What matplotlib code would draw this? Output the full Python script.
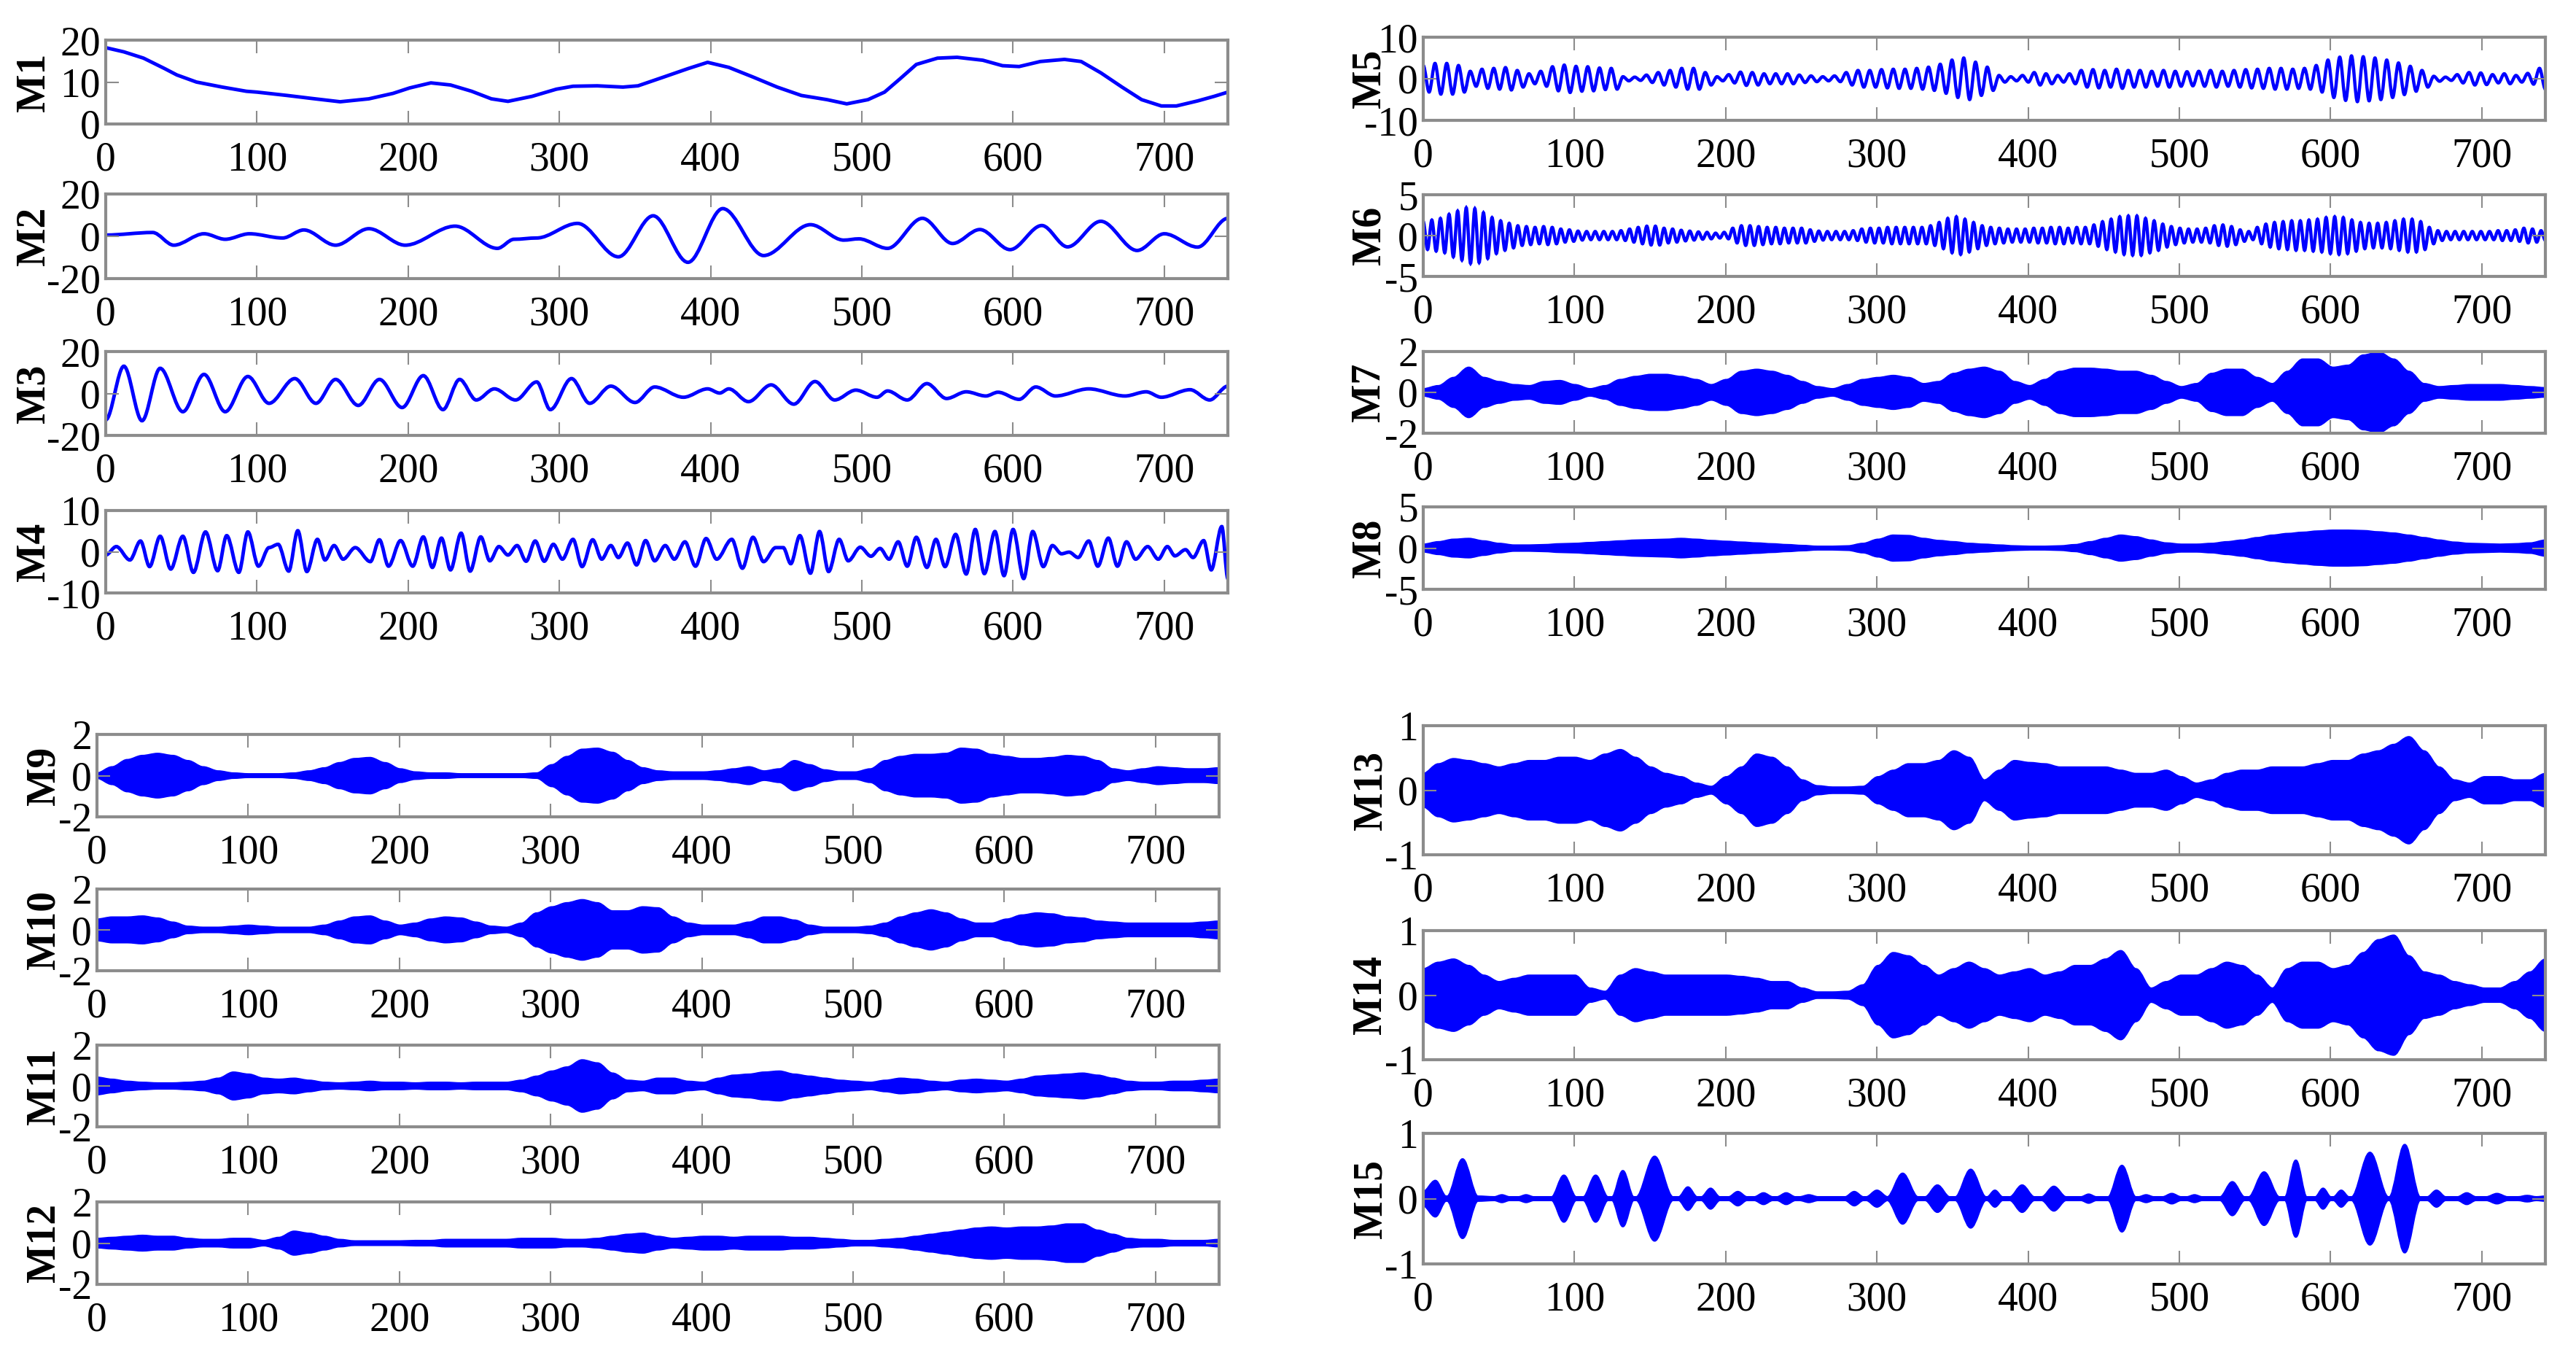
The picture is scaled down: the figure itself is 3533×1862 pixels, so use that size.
import numpy as np
import matplotlib
matplotlib.use("Agg")
import matplotlib.pyplot as plt
from matplotlib.path import Path
from matplotlib.patches import PathPatch

plt.rcParams['font.family'] = ['Liberation Serif', 'DejaVu Serif']
plt.rcParams['axes.unicode_minus'] = False

n_samples = 742
x_ticks = [0, 100, 200, 300, 400, 500, 600, 700]

# M1: smooth trend
m1_x = [0, 12, 25, 39, 47, 60, 77, 93, 100, 120, 136, 155, 174, 190, 201, 215, 228, 242, 255, 266,
        282, 298, 309, 325, 342, 352, 369, 385, 398, 412, 428, 444, 460, 477, 490, 504, 515, 525, 536, 550,
        563, 580, 593, 604, 618, 634, 645, 658, 672, 685, 698, 708, 722, 733, 742]
m1_y = [18.2, 17.2, 15.7, 13.2, 11.7, 10.0, 8.8, 7.8, 7.6, 6.8, 6.1, 5.3, 6.0, 7.3, 8.6, 9.8, 9.3, 7.8, 6.0, 5.4,
        6.6, 8.3, 9.0, 9.1, 8.8, 9.1, 11.2, 13.2, 14.7, 13.5, 11.2, 8.8, 6.8, 5.8, 4.8, 5.8, 7.6, 10.7, 14.2, 15.7,
        15.9, 15.2, 13.9, 13.7, 14.9, 15.4, 14.9, 12.2, 8.8, 5.8, 4.3, 4.3, 5.5, 6.6, 7.6]

# M2-M4: turning points (peaks / troughs)
m2_x = [0, 31, 45, 65, 79, 95, 117, 131, 152, 174, 198, 231, 259, 270, 285, 312, 339, 362, 385, 408,
        435, 466, 488, 498, 517, 540, 560, 578, 598, 619, 636, 658, 682, 700, 722, 742]
m2_y = [0.6, 1.8, -4.2, 1.2, -1.4, 1.2, -0.8, 3.0, -4.2, 3.6, -4.2, 4.8, -5.7, -1.4, -0.8, 6.1, -9.7, 9.7, -12.3, 13.1,
        -9.1, 5.5, -1.8, -1.2, -5.7, 8.5, -3.4, 3.2, -6.3, 5.1, -5.0, 7.1, -6.7, 1.2, -5.1, 8.5]

m3_x = [0, 12, 24, 36, 51, 65, 79, 94, 108, 125, 139, 152, 167, 181, 196, 210, 223, 234, 245, 257,
        271, 285, 294, 308, 320, 334, 350, 363, 382, 398, 406, 412, 425, 440, 455, 469, 482, 496, 510, 517,
        530, 543, 556, 569, 582, 590, 604, 615, 628, 650, 674, 688, 698, 717, 730, 742]
m3_y = [-12.6, 13.0, -13.0, 12.0, -8.7, 9.1, -8.7, 8.1, -4.7, 7.1, -4.7, 6.7, -5.7, 6.7, -6.7, 8.5, -7.7, 6.7, -3.1, 2.2,
        -3.1, 5.5, -7.7, 7.1, -4.7, 3.5, -4.3, 3.1, -1.8, 2.2, 0.2, 2.2, -3.9, 4.1, -5.1, 5.7, -3.1, 1.6, -1.8, 1.2,
        -3.1, 4.7, -2.4, 0.8, -1.2, 0.6, -2.8, 3.1, -1.2, 2.2, -1.2, 0.8, -1.8, 1.8, -3.1, 3.5]

m4_x = [0, 7, 16, 23, 29, 36, 43, 51, 58, 66, 74, 80, 88, 94, 101, 108, 114, 121, 127, 133,
        140, 145, 151, 157, 165, 175, 181, 187, 195, 203, 210, 216, 222, 228, 235, 241, 248, 254, 260, 266,
        272, 278, 284, 290, 296, 302, 309, 315, 322, 328, 334, 339, 345, 351, 357, 363, 370,
        376, 383, 390, 397, 404, 414, 421, 428, 435, 443, 448, 453, 459, 466, 472, 478, 485, 491, 499, 506,
        512, 518, 524, 530, 536, 543, 549, 555, 562, 569, 575, 581, 588, 594, 600, 607, 613, 620, 626, 632,
        637, 643, 650, 656, 663, 669, 675, 681, 689, 696, 702, 707, 714, 719, 726, 731, 738, 742]
m4_y = [-0.8, 1.25, -2.0, 2.6, -3.6, 3.75, -4.2, 3.75, -5.0, 4.8, -4.6, 3.9, -5.0, 4.8, -3.5, 1.0, 1.8, -4.7, 5.1, -4.8,
        3.0, -2.0, 1.5, -1.8, 1.0, -2.4, 2.9, -3.5, 2.7, -3.5, 3.6, -3.8, 3.3, -4.4, 4.5, -4.7, 3.6, -2.2, 1.25, -0.8,
        1.5, -2.3, 2.6, -2.3, 1.8, -1.8, 3.0, -3.6, 2.9, -1.8, 1.5, -1.4, 2.1, -3.2, 2.7, -2.2, 1.5,
        -1.8, 2.4, -3.5, 3.2, -1.8, 3.0, -4.0, 3.5, -2.4, 1.0, 1.0, -2.9, 3.9, -5.2, 4.9, -4.8, 3.0, -2.2, 1.1, -1.1,
        0.8, -1.8, 2.4, -3.5, 3.5, -3.8, 3.0, -3.6, 4.2, -5.4, 5.4, -5.3, 4.9, -5.8, 5.4, -6.5, 4.9, -3.6, 1.5, -0.5,
        -0.1, -1.4, 2.6, -3.5, 3.3, -3.5, 2.4, -1.8, 1.25, -1.8, 1.25, -1.0, 0.5, -1.4, 2.7, -4.4, 6.1, -6.5]

# M5, M6: amplitude of each oscillation cycle
m5_amp = [3.2, 3.7, 3.7, 3.2, 1.8, 2.3, 2.5, 2.7, 2.0, 1.2, 1.8, 2.9, 3.3, 3.0, 2.9, 2.6, 2.5, 0.5, 0.4, 0.9,
          1.5, 2.0, 2.5, 2.5, 1.5, 0.5, 1.0, 1.6, 1.5, 1.2, 1.2, 1.2, 0.9, 0.7, 0.5, 0.7, 1.5, 2.0, 2.0,
          2.2, 2.3, 2.3, 2.5, 2.8, 3.5, 4.5, 5.0, 4.0, 2.8, 0.8, 0.5, 0.8, 1.5, 1.2, 0.8, 1.2, 2.0, 2.2, 2.0,
          2.3, 2.0, 2.0, 1.8, 2.0, 1.8, 1.7, 1.8, 2.0, 1.8, 2.0, 2.2, 2.3, 2.5, 2.5, 2.3, 2.5, 3.2, 4.5, 5.2,
          5.5, 5.3, 5.0, 4.5, 3.8, 3.0, 2.0, 0.6, 0.4, 1.0, 1.5, 1.4, 1.0, 1.2, 0.8, 1.3, 2.5]
m6_amp = [1.7, 1.9, 2.1, 2.6, 3.0, 3.4, 3.3, 2.8, 2.2, 1.8, 1.5, 1.2, 1.1, 1.0, 1.1, 1.0, 0.8, 0.7, 0.55, 0.5,
          0.5, 0.5, 0.5, 0.6, 0.8, 1.0, 1.15, 1.15, 0.9, 0.8, 0.65, 0.55, 0.45, 0.4, 0.3, 0.4, 0.9, 1.2, 1.2, 1.1,
          1.0, 1.0, 0.9, 0.9, 0.9, 0.7, 0.55, 0.5, 0.5, 0.5, 0.6, 0.8, 0.9, 0.9, 1.0, 1.0, 1.0, 1.0, 1.0, 1.2,
          1.6, 2.1, 2.3, 2.0, 1.6, 1.2, 1.0, 0.9, 0.8, 0.8, 0.8, 0.9, 0.9, 1.0, 1.0, 0.9, 1.0, 1.0, 1.3, 1.7,
          2.0, 2.3, 2.4, 2.4, 2.1, 1.8, 1.4, 1.1, 0.9, 0.8, 0.8, 0.9, 1.2, 1.3, 1.1, 0.7, 0.5, 1.0, 1.4, 1.6,
          1.7, 1.8, 1.8, 1.9, 2.0, 2.2, 2.3, 2.2, 1.9, 1.6, 1.5, 1.5, 1.6, 1.8, 2.0, 2.0, 1.7, 1.0, 0.6, 0.5,
          0.5, 0.5, 0.5, 0.5, 0.5, 0.6, 0.6, 0.7, 0.9, 0.8, 0.6]

# M7-M14: envelope (half peak-to-peak) read every 10 samples
m7_env = [0.15, 0.3, 0.7, 1.2, 0.7, 0.5, 0.35, 0.3, 0.5, 0.55, 0.35, 0.15, 0.3, 0.6, 0.75, 0.85, 0.85, 0.75, 0.6, 0.35,
          0.6, 1.0, 1.1, 1.0, 0.8, 0.5, 0.25, 0.15, 0.35, 0.6, 0.7, 0.8, 0.7, 0.4, 0.5, 0.9, 1.1, 1.2, 1.0, 0.5,
          0.3, 0.6, 1.0, 1.15, 1.15, 1.1, 1.0, 1.0, 0.8, 0.5, 0.25, 0.4, 0.9, 1.1, 1.1, 0.7, 0.4, 1.0, 1.6, 1.6,
          1.2, 1.3, 1.8, 1.95, 1.6, 1.0, 0.4, 0.25, 0.3, 0.35, 0.35, 0.35, 0.3, 0.25, 0.2]
m8_env = [0.4, 0.7, 1.0, 1.1, 0.8, 0.5, 0.3, 0.3, 0.35, 0.45, 0.5, 0.6, 0.7, 0.8, 0.9, 0.95, 1.0, 1.1, 1.0, 0.85,
          0.75, 0.65, 0.55, 0.45, 0.35, 0.25, 0.15, 0.15, 0.2, 0.5, 1.0, 1.5, 1.45, 1.1, 0.85, 0.7, 0.5, 0.4, 0.3, 0.2,
          0.15, 0.15, 0.2, 0.35, 0.7, 1.1, 1.5, 1.3, 0.9, 0.55, 0.4, 0.4, 0.5, 0.7, 0.9, 1.2, 1.5, 1.7, 1.85, 2.0,
          2.1, 2.1, 2.05, 1.9, 1.75, 1.5, 1.2, 0.9, 0.65, 0.5, 0.45, 0.4, 0.45, 0.55, 0.9]
m9_env = [0.1, 0.4, 0.75, 0.95, 1.05, 0.95, 0.7, 0.4, 0.2, 0.1, 0.06, 0.06, 0.06, 0.1, 0.2, 0.35, 0.6, 0.8, 0.85, 0.6,
          0.3, 0.15, 0.1, 0.1, 0.06, 0.06, 0.06, 0.06, 0.06, 0.1, 0.5, 0.9, 1.25, 1.3, 1.1, 0.7, 0.35, 0.2, 0.15, 0.15,
          0.15, 0.2, 0.3, 0.4, 0.2, 0.3, 0.7, 0.5, 0.25, 0.15, 0.15, 0.3, 0.7, 0.9, 1.0, 1.0, 1.05, 1.3, 1.25, 1.0,
          0.9, 0.8, 0.8, 0.85, 0.95, 0.9, 0.7, 0.3, 0.2, 0.3, 0.4, 0.35, 0.3, 0.3, 0.35]
m10_env = [0.5, 0.6, 0.6, 0.65, 0.55, 0.35, 0.15, 0.1, 0.1, 0.15, 0.2, 0.15, 0.1, 0.1, 0.1, 0.2, 0.4, 0.6, 0.65, 0.4,
           0.2, 0.3, 0.5, 0.6, 0.55, 0.35, 0.15, 0.1, 0.3, 0.8, 1.1, 1.3, 1.45, 1.3, 0.9, 0.9, 1.1, 1.05, 0.6, 0.3,
           0.2, 0.2, 0.2, 0.35, 0.6, 0.6, 0.45, 0.2, 0.1, 0.1, 0.1, 0.15, 0.3, 0.6, 0.8, 0.95, 0.8, 0.5, 0.3, 0.3,
           0.5, 0.7, 0.8, 0.75, 0.6, 0.55, 0.4, 0.35, 0.3, 0.3, 0.3, 0.3, 0.3, 0.35, 0.4]
m11_env = [0.4, 0.3, 0.2, 0.15, 0.12, 0.12, 0.15, 0.2, 0.35, 0.65, 0.55, 0.35, 0.3, 0.35, 0.25, 0.15, 0.12, 0.15, 0.2, 0.15,
           0.15, 0.12, 0.15, 0.15, 0.12, 0.15, 0.15, 0.15, 0.25, 0.45, 0.7, 0.9, 1.25, 1.1, 0.6, 0.25, 0.2, 0.35, 0.35, 0.2,
           0.15, 0.35, 0.5, 0.55, 0.65, 0.7, 0.55, 0.45, 0.35, 0.25, 0.2, 0.15, 0.25, 0.35, 0.3, 0.2, 0.15, 0.25, 0.3, 0.25,
           0.2, 0.3, 0.45, 0.5, 0.55, 0.6, 0.5, 0.35, 0.2, 0.15, 0.15, 0.2, 0.2, 0.25, 0.3]
m12_env = [0.2, 0.25, 0.3, 0.35, 0.3, 0.3, 0.2, 0.15, 0.15, 0.2, 0.2, 0.1, 0.25, 0.55, 0.45, 0.3, 0.15, 0.08, 0.08, 0.08,
           0.08, 0.1, 0.1, 0.15, 0.15, 0.15, 0.15, 0.15, 0.2, 0.2, 0.2, 0.15, 0.15, 0.2, 0.3, 0.4, 0.45, 0.3, 0.2, 0.25,
           0.3, 0.3, 0.25, 0.3, 0.3, 0.3, 0.25, 0.25, 0.2, 0.15, 0.1, 0.1, 0.15, 0.2, 0.3, 0.4, 0.5, 0.6, 0.7, 0.75,
           0.7, 0.75, 0.75, 0.8, 0.9, 0.9, 0.6, 0.4, 0.2, 0.15, 0.15, 0.1, 0.1, 0.1, 0.15]
m13_env = [0.25, 0.4, 0.48, 0.45, 0.4, 0.35, 0.4, 0.45, 0.45, 0.5, 0.5, 0.45, 0.55, 0.62, 0.5, 0.35, 0.25, 0.2, 0.1, 0.05,
           0.2, 0.35, 0.55, 0.5, 0.35, 0.15, 0.06, 0.04, 0.04, 0.05, 0.2, 0.3, 0.4, 0.4, 0.45, 0.6, 0.5, 0.15, 0.3, 0.45,
           0.42, 0.4, 0.35, 0.35, 0.35, 0.35, 0.3, 0.25, 0.25, 0.3, 0.2, 0.1, 0.15, 0.25, 0.3, 0.3, 0.35, 0.35, 0.35, 0.4,
           0.45, 0.45, 0.55, 0.6, 0.7, 0.82, 0.6, 0.35, 0.15, 0.1, 0.2, 0.2, 0.15, 0.15, 0.25]
m14_env = [0.4, 0.5, 0.55, 0.45, 0.3, 0.2, 0.25, 0.3, 0.3, 0.3, 0.3, 0.1, 0.05, 0.3, 0.4, 0.35, 0.3, 0.3, 0.3, 0.3,
           0.3, 0.28, 0.25, 0.2, 0.2, 0.1, 0.04, 0.04, 0.05, 0.15, 0.45, 0.65, 0.6, 0.45, 0.3, 0.4, 0.5, 0.4, 0.3, 0.35,
           0.4, 0.3, 0.35, 0.45, 0.45, 0.55, 0.68, 0.4, 0.1, 0.2, 0.3, 0.3, 0.4, 0.5, 0.45, 0.3, 0.1, 0.4, 0.5, 0.5,
           0.4, 0.45, 0.65, 0.85, 0.92, 0.6, 0.35, 0.3, 0.2, 0.15, 0.1, 0.1, 0.2, 0.35, 0.55]

# M15: separate bursts, envelope read at burst edges and centres
m15_x = [0, 8, 15, 16, 26, 36, 47, 52, 57, 63, 68, 73, 85, 93, 101, 106, 114, 122, 125, 132,
         139, 141, 153, 165, 169, 175, 181, 184, 190, 196, 202, 208, 214, 219, 225, 231, 234, 240, 246, 249,
         255, 261, 279, 285, 291, 293, 300, 307, 317, 327, 332, 340, 348, 352, 362, 372, 373, 378, 383, 388,
         396, 404, 409, 417, 425, 435, 440, 445, 453, 462, 471, 473, 478, 483, 489, 495, 501, 505, 510, 515,
         527, 535, 543, 546, 556, 566, 570, 577, 584, 590, 595, 600, 602, 607, 612, 614, 626, 638, 639, 649,
         659, 664, 670, 676, 684, 690, 696, 703, 710, 717, 724, 730, 736, 742]
m15_env = [0.1, 0.27, 0.03, 0.03, 0.6, 0.03, 0.02, 0.05, 0.02, 0.02, 0.05, 0.02, 0.02, 0.35, 0.02, 0.02, 0.35, 0.02, 0.02, 0.42,
           0.02, 0.02, 0.64, 0.02, 0.02, 0.17, 0.02, 0.02, 0.15, 0.02, 0.02, 0.1, 0.02, 0.02, 0.08, 0.02, 0.02, 0.08, 0.02, 0.02,
           0.05, 0.02, 0.02, 0.1, 0.02, 0.02, 0.12, 0.02, 0.38, 0.02, 0.02, 0.2, 0.02, 0.02, 0.44, 0.02, 0.02, 0.12, 0.02, 0.02,
           0.2, 0.02, 0.02, 0.18, 0.02, 0.02, 0.06, 0.02, 0.02, 0.5, 0.02, 0.02, 0.05, 0.02, 0.02, 0.07, 0.02, 0.02, 0.05, 0.02,
           0.02, 0.25, 0.02, 0.02, 0.4, 0.02, 0.02, 0.58, 0.02, 0.02, 0.15, 0.02, 0.02, 0.12, 0.02, 0.02, 0.7, 0.02, 0.02, 0.82,
           0.02, 0.02, 0.12, 0.02, 0.02, 0.08, 0.02, 0.02, 0.07, 0.02, 0.02, 0.04, 0.02, 0.03]

blue = '#0000ff'
grey = '#8c8c8c'
W, H = 3533, 1862
line_w = 3.5

fig = plt.figure(figsize=(W / 100, H / 100), dpi=100)
fig.patch.set_facecolor('white')


def add_panel(left, right, top, bottom):
    return fig.add_axes([left / W, 1 - bottom / H, (right - left) / W, (bottom - top) / H])


def bezier_run(xs, ys):
    # cubic segments with flat tangents at every given point
    verts, codes = [], []
    for x0, y0, x1, y1 in zip(xs[:-1], ys[:-1], xs[1:], ys[1:]):
        d = (x1 - x0) / 3
        verts += [(x0 + d, y0), (x1 - d, y1), (x1, y1)]
        codes += [Path.CURVE4] * 3
    return verts, codes


def smooth_line(ax, xs, ys, lw=line_w):
    xs = np.asarray(xs, float)
    ys = np.asarray(ys, float)
    v, c = bezier_run(xs, ys)
    path = Path([(xs[0], ys[0])] + v, [Path.MOVETO] + c)
    ax.add_patch(PathPatch(path, fc='none', ec=blue, lw=lw))


def cycles(ax, amps):
    a = np.asarray(amps, float)
    ys = np.column_stack([a, -a]).ravel()
    xs = np.linspace(0, n_samples, len(ys))
    smooth_line(ax, xs, ys, lw=3.2)


def envelope(ax, env, xs=None):
    env = np.asarray(env, float)
    if xs is None:
        xs = np.linspace(0, n_samples, len(env))
    xs = np.asarray(xs, float)
    up_v, up_c = bezier_run(xs, env)
    lo_v, lo_c = bezier_run(xs[::-1], -env[::-1])
    verts = [(xs[0], env[0])] + up_v + [(xs[-1], -env[-1])] + lo_v + [(xs[0], env[0])]
    codes = [Path.MOVETO] + up_c + [Path.LINETO] + lo_c + [Path.CLOSEPOLY]
    ax.add_patch(PathPatch(Path(verts, codes), fc=blue, ec=blue, lw=2.5))


def style(ax, name, lim, label_off):
    ax.set_xlim(0, n_samples)
    if name == 'M1':
        yt = [0, 10, 20]
    else:
        yt = [-lim, 0, lim]
    ax.set_ylim(yt[0], yt[-1])
    ax.set_xticks(x_ticks)
    ax.set_yticks(yt)
    ax.set_yticklabels([f'{v:g}' for v in yt])
    ax.tick_params(direction='in', top=True, right=True, length=13, width=1.5,
                   color=grey, labelsize=40)
    ax.tick_params(axis='x', pad=17)
    ax.tick_params(axis='y', pad=5)
    for s in ax.spines.values():
        s.set_color(grey)
        s.set_linewidth(3)
    ax.set_ylabel(name, fontsize=40, fontweight='bold', va='center')
    bb = ax.get_position()
    ax.yaxis.set_label_coords(label_off / (bb.width * W), 0.5)


# top-left block
ax = add_panel(145, 1684, 55, 170)
ax.plot(m1_x, m1_y, color=blue, lw=line_w, solid_joinstyle='round')
style(ax, 'M1', 20, -98)

ax = add_panel(145, 1684, 266, 382)
smooth_line(ax, m2_x, m2_y)
style(ax, 'M2', 20, -98)

ax = add_panel(145, 1684, 482, 597)
smooth_line(ax, m3_x, m3_y)
style(ax, 'M3', 20, -98)

ax = add_panel(145, 1684, 700, 813)
smooth_line(ax, m4_x, m4_y)
style(ax, 'M4', 10, -98)

# top-right block
ax = add_panel(1952, 3491, 51, 165)
cycles(ax, m5_amp)
style(ax, 'M5', 10, -74)

ax = add_panel(1952, 3491, 267, 379)
cycles(ax, m6_amp)
style(ax, 'M6', 5, -74)

ax = add_panel(1952, 3491, 482, 594)
envelope(ax, m7_env)
style(ax, 'M7', 2, -74)

ax = add_panel(1952, 3491, 695, 808)
envelope(ax, m8_env)
style(ax, 'M8', 5, -74)

# bottom-left block
for name, env, (top, bottom) in [('M9', m9_env, (1007, 1120)), ('M10', m10_env, (1219, 1331)),
                                 ('M11', m11_env, (1433, 1545)), ('M12', m12_env, (1648, 1761))]:
    ax = add_panel(133, 1672, top, bottom)
    envelope(ax, env)
    style(ax, name, 2, -72)

# bottom-right block
ax = add_panel(1952, 3491, 995, 1172)
envelope(ax, m13_env)
style(ax, 'M13', 1, -72)

ax = add_panel(1952, 3491, 1276, 1453)
envelope(ax, m14_env)
style(ax, 'M14', 1, -72)

ax = add_panel(1952, 3491, 1554, 1733)
envelope(ax, m15_env, xs=m15_x)
style(ax, 'M15', 1, -72)

fig.savefig('out.png', dpi=100, facecolor='white')
